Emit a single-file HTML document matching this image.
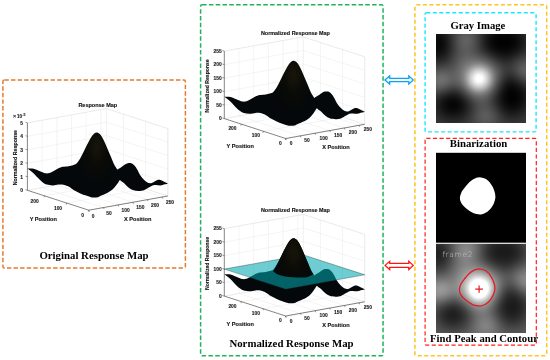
<!DOCTYPE html>
<html><head><meta charset="utf-8"><title>Response Map Pipeline</title>
<style>
html,body{margin:0;padding:0;background:#fff;}
body{width:550px;height:360px;overflow:hidden;}
svg{display:block;}
.t{font-family:"Liberation Sans",sans-serif;font-weight:bold;font-size:4.9px;fill:#222;stroke:#222;stroke-width:0.12px;}
.t .al{font-size:5.6px;fill:#111;stroke:#111;}
.t .ti{font-size:5.5px;fill:#111;stroke:#111;}
.cap{font-family:"Liberation Serif",serif;font-weight:bold;fill:#000;}
</style></head><body>
<svg width="550" height="360" viewBox="0 0 550 360">
<defs>
<radialGradient id="sg" gradientUnits="userSpaceOnUse" cx="96.7" cy="147" r="40" gradientTransform="translate(96.7,147) scale(0.55,1) translate(-96.7,-147)">
<stop offset="0" stop-color="#19150a"/><stop offset="0.45" stop-color="#0a0b07"/><stop offset="1" stop-color="#04080a"/>
</radialGradient>
<g id="axes">
<path d="M27.4,190.3 L106.4,176.1 L167.8,196.0 M27.4,176.8 L106.4,162.6 L167.8,182.5 M27.4,163.3 L106.4,149.1 L167.8,169.0 M27.4,149.8 L106.4,135.6 L167.8,155.5 M27.4,136.3 L106.4,122.1 L167.8,142.0 M27.4,122.8 L106.4,108.6 L167.8,128.5 M42.1,187.7 L42.1,120.2 M42.1,187.7 L103.5,207.6 M56.8,185.0 L56.8,117.5 M56.8,185.0 L118.2,204.9 M71.5,182.4 L71.5,114.9 M71.5,182.4 L132.9,202.3 M86.1,179.7 L86.1,112.2 M86.1,179.7 L147.5,199.6 M100.8,177.1 L100.8,109.6 M100.8,177.1 L162.2,197.0 M167.8,196.0 L167.8,128.5 M167.8,196.0 L88.8,210.2 M145.6,188.8 L145.6,121.3 M145.6,188.8 L66.6,203.0 M123.5,181.6 L123.5,114.1 M123.5,181.6 L44.5,195.8" fill="none" stroke="#e9e9e9" stroke-width="0.5"/>
<path d="M27.4,122.8 L106.4,108.6 L167.8,128.5 L167.8,196.0 M27.4,190.3 L106.4,176.1 L167.8,196.0 M106.4,176.1 L106.4,108.6" fill="none" stroke="#e2e2e2" stroke-width="0.5"/>
<path d="M27.4,122.8 L27.4,190.3 L88.8,210.2 L167.8,196.0" fill="none" stroke="#333" stroke-width="0.6"/>
<path d="M27.4,190.3 l-1.9,-0.6 M27.4,176.8 l-1.9,-0.6 M27.4,163.3 l-1.9,-0.6 M27.4,149.8 l-1.9,-0.6 M27.4,136.3 l-1.9,-0.6 M27.4,122.8 l-1.9,-0.6 M88.8,210.2 l0.6,1.5 M103.5,207.6 l0.6,1.5 M118.2,204.9 l0.6,1.5 M132.9,202.3 l0.6,1.5 M147.5,199.6 l0.6,1.5 M162.2,197.0 l0.6,1.5 M88.8,210.2 l-0.5,1.5 M66.6,203.0 l-0.5,1.5 M44.5,195.8 l-0.5,1.5" fill="none" stroke="#333" stroke-width="0.5"/>
</g>
<path id="surf" d="M27.3,168.5 C28.4,168.5 31.7,168.3 33.7,168.7 C35.7,169.1 37.5,170.2 39.5,171.0 C41.5,171.8 43.7,173.0 45.4,173.3 C47.1,173.6 48.2,173.3 49.7,172.9 C51.2,172.5 52.6,171.6 54.1,170.8 C55.6,170.0 57.0,169.0 58.5,168.3 C60.0,167.6 61.1,167.2 62.8,166.8 C64.5,166.5 66.9,166.5 68.6,166.2 C70.3,165.9 71.7,165.6 73.0,165.2 C74.3,164.8 75.2,164.7 76.4,163.6 C77.6,162.5 78.7,160.9 80.0,158.8 C81.3,156.7 82.7,153.6 84.0,151.0 C85.3,148.4 86.8,145.2 88.0,143.0 C89.2,140.8 90.0,139.0 91.0,137.5 C92.0,136.0 93.0,134.6 94.0,133.8 C95.0,133.0 95.8,132.5 96.7,132.5 C97.6,132.5 98.6,133.1 99.5,133.8 C100.4,134.6 101.1,135.5 102.0,137.0 C102.9,138.5 104.0,140.8 105.0,143.0 C106.0,145.2 107.0,147.7 108.0,150.0 C109.0,152.3 110.0,154.7 111.0,157.0 C112.0,159.3 112.8,161.8 113.9,163.9 C115.0,166.0 116.8,168.7 117.4,169.6 C118.0,169.2 119.9,168.0 121.2,167.2 C122.5,166.4 123.9,165.2 125.0,164.6 C126.1,163.9 126.8,163.5 127.8,163.3 C128.8,163.1 130.2,163.0 131.3,163.3 C132.4,163.6 133.2,164.3 134.2,165.3 C135.2,166.3 136.2,167.8 137.2,169.4 C138.2,171.0 139.0,173.3 140.1,175.0 C141.2,176.7 142.5,178.2 143.7,179.5 C144.9,180.8 146.2,181.9 147.4,182.5 C148.6,183.1 149.8,183.4 151.0,183.2 C152.2,183.0 153.5,181.9 154.6,181.4 C155.7,180.9 156.5,180.1 157.5,179.9 C158.5,179.7 159.4,179.7 160.5,180.0 C161.6,180.3 162.8,181.1 164.1,181.7 C165.3,182.3 167.3,183.1 168.0,183.4 C167.5,183.6 166.1,184.0 164.8,184.3 C163.6,184.6 161.9,185.3 160.5,185.4 C159.1,185.5 157.4,185.1 156.1,185.1 C154.8,185.1 153.7,185.1 152.5,185.5 C151.3,185.9 150.1,186.8 148.8,187.5 C147.5,188.2 146.2,189.3 144.5,189.9 C142.8,190.5 140.5,190.9 138.6,190.9 C136.7,190.9 134.5,190.6 132.8,190.0 C131.1,189.4 129.9,188.6 128.5,187.5 C127.0,186.4 125.5,184.6 124.1,183.3 C122.6,182.1 120.5,180.6 119.8,180.0 C119.3,180.8 118.0,183.0 116.8,184.6 C115.6,186.2 114.2,188.1 112.5,189.6 C110.8,191.1 108.5,192.3 106.6,193.3 C104.6,194.3 102.3,195.2 100.8,195.8 C99.3,196.5 99.2,196.9 97.7,197.2 C96.2,197.5 93.8,197.7 91.9,197.4 C90.0,197.1 88.0,196.3 86.1,195.6 C84.2,194.9 82.2,194.2 80.3,193.4 C78.4,192.6 76.5,191.6 74.5,190.5 C72.5,189.4 70.3,187.5 68.6,186.6 C66.9,185.7 66.0,185.2 64.3,184.9 C62.6,184.6 60.5,184.5 58.5,184.6 C56.5,184.7 54.6,185.4 52.6,185.4 C50.6,185.4 48.5,185.1 46.8,184.6 C45.1,184.1 44.0,183.3 42.5,182.2 C41.0,181.1 39.8,179.8 38.1,178.1 C36.4,176.4 34.1,173.9 32.3,172.3 C30.5,170.7 28.1,169.1 27.3,168.5Z" fill="url(#sg)"/>
<path id="cap" d="M76.3,165.8 C76.9,164.6 78.7,161.3 80.0,158.8 C81.3,156.3 82.7,153.6 84.0,151.0 C85.3,148.4 86.8,145.2 88.0,143.0 C89.2,140.8 90.0,139.0 91.0,137.5 C92.0,136.0 93.0,134.6 94.0,133.8 C95.0,133.0 95.8,132.5 96.7,132.5 C97.6,132.5 98.6,133.1 99.5,133.8 C100.4,134.6 101.1,135.5 102.0,137.0 C102.9,138.5 104.0,140.8 105.0,143.0 C106.0,145.2 107.0,147.7 108.0,150.0 C109.0,152.3 110.0,154.7 111.0,157.0 C112.0,159.3 113.0,162.0 113.9,163.9 C114.8,165.8 116.1,167.7 116.5,168.4 C115.6,168.8 113.0,170.6 111.0,171.1 C109.0,171.6 107.3,171.6 104.8,171.7 C102.3,171.8 98.8,171.7 96.0,171.5 C93.2,171.3 90.6,171.1 88.1,170.6 C85.6,170.1 83.0,169.5 81.0,168.7 C79.0,167.9 77.1,166.3 76.3,165.8Z" fill="url(#sg)"/>
<filter id="bl" color-interpolation-filters="sRGB" x="-10%" y="-10%" width="120%" height="120%"><feGaussianBlur stdDeviation="7.5"/></filter>
<filter id="bl2" color-interpolation-filters="sRGB" x="-50%" y="-50%" width="200%" height="200%"><feGaussianBlur stdDeviation="1.5"/></filter>
<filter id="bl3" color-interpolation-filters="sRGB" x="-50%" y="-50%" width="200%" height="200%"><feGaussianBlur stdDeviation="4"/></filter>
<filter id="bright" x="0" y="0" width="100%" height="100%" color-interpolation-filters="sRGB"><feComponentTransfer><feFuncR type="linear" slope="1.15" intercept="0.1"/><feFuncG type="linear" slope="1.15" intercept="0.1"/><feFuncB type="linear" slope="1.15" intercept="0.1"/></feComponentTransfer></filter>
<clipPath id="cg"><rect x="0" y="0" width="90" height="89"/></clipPath>
<g id="gray" clip-path="url(#cg)">
<rect x="0" y="0" width="90" height="89" fill="#3a3a3a"/>
<g filter="url(#bl)">
<rect x="-20" y="-20" width="130" height="129" fill="#3a3a3a"/>
<ellipse cx="2" cy="10" rx="13" ry="17" fill="#000"/>
<ellipse cx="68" cy="8" rx="22" ry="17" fill="#000"/>
<ellipse cx="76" cy="62" rx="17" ry="20" fill="#000"/>
<ellipse cx="17" cy="70" rx="17" ry="15" fill="#000"/>
<ellipse cx="5" cy="47" rx="13" ry="10" fill="#8a8a8a"/>
<ellipse cx="30" cy="6" rx="11" ry="11" fill="#747474"/>
<ellipse cx="90" cy="37" rx="9" ry="11" fill="#808080"/>
<ellipse cx="50" cy="82" rx="11" ry="10" fill="#707070"/>
<ellipse cx="26" cy="28" rx="9" ry="9" fill="#666"/>
<ellipse cx="43" cy="44.5" rx="19" ry="19" fill="#a0a0a0"/>
</g>
<g filter="url(#bl3)">
<circle cx="43.1" cy="44.5" r="9.8" fill="#fff"/>
</g>
<g filter="url(#bl2)">
<circle cx="43.1" cy="44.5" r="4" fill="#fff"/>
</g>
</g>
</defs>
<rect width="550" height="360" fill="#fff"/>

<!-- frames -->
<rect x="2.9" y="80" width="182.5" height="187.9" rx="1.5" fill="none" stroke="#e67a2c" stroke-width="1.5" stroke-dasharray="4.4 2.2"/>
<rect x="200.6" y="4.7" width="182.45" height="351.1" rx="1.5" fill="none" stroke="#1db55c" stroke-width="1.5" stroke-dasharray="4.5 2.3"/>
<rect x="414.9" y="4.7" width="131.8" height="351" rx="1.5" fill="none" stroke="#ffc41f" stroke-width="1.5" stroke-dasharray="4 2.5"/>
<rect x="425.1" y="12.8" width="111" height="119.1" rx="1.2" fill="none" stroke="#19e7ff" stroke-width="1.4" stroke-dasharray="4 2.5"/>
<rect x="425.1" y="138.3" width="111.2" height="206.8" rx="1.2" fill="none" stroke="#ff2020" stroke-width="1.2" stroke-dasharray="4.2 2.4"/>

<!-- left plot -->
<g>
<use href="#axes"/>
<use href="#surf"/>
<g class="t">
<text x="23.1" y="192.1" text-anchor="end">0</text>
<text x="23.1" y="178.6" text-anchor="end">1</text>
<text x="23.1" y="165.1" text-anchor="end">2</text>
<text x="23.1" y="151.6" text-anchor="end">3</text>
<text x="23.1" y="138.1" text-anchor="end">4</text>
<text x="23.1" y="124.6" text-anchor="end">5</text>
<text x="93.2" y="217.7" text-anchor="middle">0</text>
<text x="109.0" y="214.9" text-anchor="middle">50</text>
<text x="125.7" y="212.0" text-anchor="middle">100</text>
<text x="140.3" y="209.3" text-anchor="middle">150</text>
<text x="155.0" y="206.7" text-anchor="middle">200</text>
<text x="170.0" y="203.8" text-anchor="middle">250</text>
<text x="82.6" y="217.0" text-anchor="middle">0</text>
<text x="58.0" y="209.7" text-anchor="middle">100</text>
<text x="34.6" y="202.9" text-anchor="middle">200</text>
<text x="43.3" y="220.6" text-anchor="middle" class="al">Y Position</text>
<text x="137.7" y="221.2" text-anchor="middle" class="al">X Position</text>
<text transform="translate(17.3,157.6) rotate(-90)" text-anchor="middle" class="al" style="font-size:5.30px">Normalized Response</text>
<text x="13.1" y="117.9" style="font-size:4.6px"><tspan style="font-weight:normal;font-size:5.4px">×</tspan><tspan x="17" >10</tspan><tspan x="22.3" y="115.5" style="font-size:3.5px">-5</tspan></text>
<text x="97.8" y="107.2" text-anchor="middle" class="ti">Response Map</text>
</g>
</g>

<!-- middle top plot -->
<g transform="translate(196.9,-71.7)">
<use href="#axes"/>
<use href="#surf"/>
<g class="t">
<text x="24.8" y="192.1" text-anchor="end">0</text>
<text x="24.8" y="178.6" text-anchor="end">50</text>
<text x="24.8" y="165.1" text-anchor="end">100</text>
<text x="24.8" y="151.6" text-anchor="end">150</text>
<text x="24.8" y="138.1" text-anchor="end">200</text>
<text x="24.8" y="124.6" text-anchor="end">255</text>
<text x="94.2" y="217.0" text-anchor="middle">0</text>
<text x="110.0" y="214.2" text-anchor="middle">50</text>
<text x="126.7" y="211.3" text-anchor="middle">100</text>
<text x="141.3" y="208.6" text-anchor="middle">150</text>
<text x="156.0" y="206.0" text-anchor="middle">200</text>
<text x="171.0" y="203.1" text-anchor="middle">250</text>
<text x="83.6" y="216.3" text-anchor="middle">0</text>
<text x="59.0" y="209.0" text-anchor="middle">100</text>
<text x="35.6" y="202.2" text-anchor="middle">200</text>
<text x="43.3" y="219.9" text-anchor="middle" class="al">Y Position</text>
<text x="139.0" y="221.2" text-anchor="middle" class="al">X Position</text>
<text transform="translate(12.3,157.6) rotate(-90)" text-anchor="middle" class="al" style="font-size:5.10px">Normalized Response</text>
<text x="98.5" y="106.5" text-anchor="middle" class="ti" style="font-size:5.43px">Normalized Response Map</text>
</g>
</g>

<!-- middle bottom plot -->
<g transform="translate(196.9,105.8)">
<use href="#axes"/>
<use href="#surf"/>
<path d="M27.4,163.3 L106.4,149.1 L167.8,169.0 L88.8,183.2 Z" fill="#00a7af" fill-opacity="0.57" stroke="#1d4a4d" stroke-width="0.4"/>
<use href="#cap"/>
<g class="t">
<text x="24.8" y="192.1" text-anchor="end">0</text>
<text x="24.8" y="178.6" text-anchor="end">50</text>
<text x="24.8" y="165.1" text-anchor="end">100</text>
<text x="24.8" y="151.6" text-anchor="end">150</text>
<text x="24.8" y="138.1" text-anchor="end">200</text>
<text x="24.8" y="124.6" text-anchor="end">255</text>
<text x="94.2" y="217.0" text-anchor="middle">0</text>
<text x="110.0" y="214.2" text-anchor="middle">50</text>
<text x="126.7" y="211.3" text-anchor="middle">100</text>
<text x="141.3" y="208.6" text-anchor="middle">150</text>
<text x="156.0" y="206.0" text-anchor="middle">200</text>
<text x="171.0" y="203.1" text-anchor="middle">250</text>
<text x="83.6" y="216.3" text-anchor="middle">0</text>
<text x="59.0" y="209.0" text-anchor="middle">100</text>
<text x="35.6" y="202.2" text-anchor="middle">200</text>
<text x="43.3" y="219.9" text-anchor="middle" class="al">Y Position</text>
<text x="139.0" y="221.2" text-anchor="middle" class="al">X Position</text>
<text transform="translate(12.3,157.6) rotate(-90)" text-anchor="middle" class="al" style="font-size:5.10px">Normalized Response</text>
<text x="98.5" y="106.5" text-anchor="middle" class="ti" style="font-size:5.43px">Normalized Response Map</text>
</g>
</g>

<!-- arrows -->
<path d="M384.9,80 L389.7,75.9 V78.3 H408.8 V75.9 L413.2,80 L408.8,84.1 V81.7 H389.7 V84.1 Z" fill="#fff" stroke="#0aa2f5" stroke-width="1.25" stroke-linejoin="miter"/>
<path d="M385.1,265.4 L389.7,261.3 V263.4 H408.8 V261.3 L413.2,265.4 L408.8,269.5 V267.4 H389.7 V269.5 Z" fill="#fff" stroke="#ff1414" stroke-width="1.25" stroke-linejoin="miter"/>

<!-- right images -->
<use href="#gray" x="436" y="34"/>
<rect x="436" y="152.8" width="90" height="89.9" fill="#000"/>
<path d="M479.5,177.2 C481.6,177.3 484.6,178.1 486.7,179.4 C488.7,180.7 490.4,183.1 491.7,185.2 C493.1,187.2 494.0,189.6 494.6,191.7 C495.2,193.7 495.5,195.5 495.4,197.5 C495.2,199.4 494.8,201.3 493.9,203.2 C493.1,205.2 491.6,207.5 490.3,209.0 C489.0,210.6 487.5,211.7 486.0,212.6 C484.4,213.5 482.5,214.3 480.9,214.5 C479.3,214.7 478.0,214.4 476.6,214.1 C475.1,213.8 473.7,213.4 472.2,212.6 C470.8,211.9 469.3,210.8 467.9,209.7 C466.5,208.7 464.8,207.5 463.6,206.1 C462.4,204.8 461.3,203.2 460.7,201.8 C460.1,200.3 459.8,199.0 459.9,197.5 C460.1,195.9 460.6,194.1 461.4,192.4 C462.2,190.7 463.7,189.0 465.0,187.3 C466.3,185.7 467.9,183.7 469.3,182.3 C470.8,180.9 472.0,179.8 473.7,179.0 C475.4,178.1 477.3,177.2 479.5,177.2Z" fill="#fff"/>
<rect x="436" y="243" width="90" height="0.75" fill="#d0d0d0"/>
<g transform="translate(0,210)" filter="url(#bright)"><use href="#gray" x="436" y="34"/></g>
<path d="M479.0,268.8 C481.1,268.9 484.1,269.7 486.2,271.0 C488.2,272.3 489.9,274.7 491.2,276.8 C492.6,278.8 493.5,281.2 494.1,283.3 C494.7,285.3 495.0,287.1 494.9,289.1 C494.7,291.0 494.3,292.9 493.4,294.8 C492.6,296.8 491.1,299.1 489.8,300.6 C488.5,302.2 487.0,303.3 485.5,304.2 C483.9,305.1 482.0,305.9 480.4,306.1 C478.8,306.3 477.5,306.0 476.1,305.7 C474.6,305.4 473.2,305.0 471.7,304.2 C470.3,303.5 468.8,302.4 467.4,301.3 C466.0,300.3 464.3,299.1 463.1,297.7 C461.9,296.4 460.8,294.8 460.2,293.4 C459.6,291.9 459.3,290.6 459.4,289.1 C459.6,287.5 460.1,285.7 460.9,284.0 C461.7,282.3 463.2,280.6 464.5,278.9 C465.8,277.3 467.4,275.3 468.8,273.9 C470.3,272.5 471.5,271.4 473.2,270.6 C474.9,269.7 476.8,268.8 479.0,268.8Z" fill="none" stroke="#e41a20" stroke-width="1.3"/>
<path d="M475.3,289.2 H482.9 M479.1,285.6 V292.8" stroke="#e41a20" stroke-width="1.2" fill="none"/>
<text x="442.4" y="257.4" font-family="'DejaVu Sans','Liberation Sans',sans-serif" font-size="7.6" fill="#c4c4c4" style="font-weight:200;letter-spacing:0.55px">frame2</text>

<!-- captions -->
<text class="cap" x="94" y="259" font-size="10.8" text-anchor="middle">Original Response Map</text>
<text class="cap" x="291.5" y="346.6" font-size="10.8" text-anchor="middle">Normalized Response Map</text>
<text class="cap" x="477.9" y="28.5" font-size="10.7" text-anchor="middle">Gray Image</text>
<text class="cap" x="478.5" y="147.4" font-size="10.8" text-anchor="middle">Binarization</text>
<text class="cap" x="484" y="341.8" font-size="10.7" text-anchor="middle">Find Peak and Contour</text>
</svg>
</body></html>
